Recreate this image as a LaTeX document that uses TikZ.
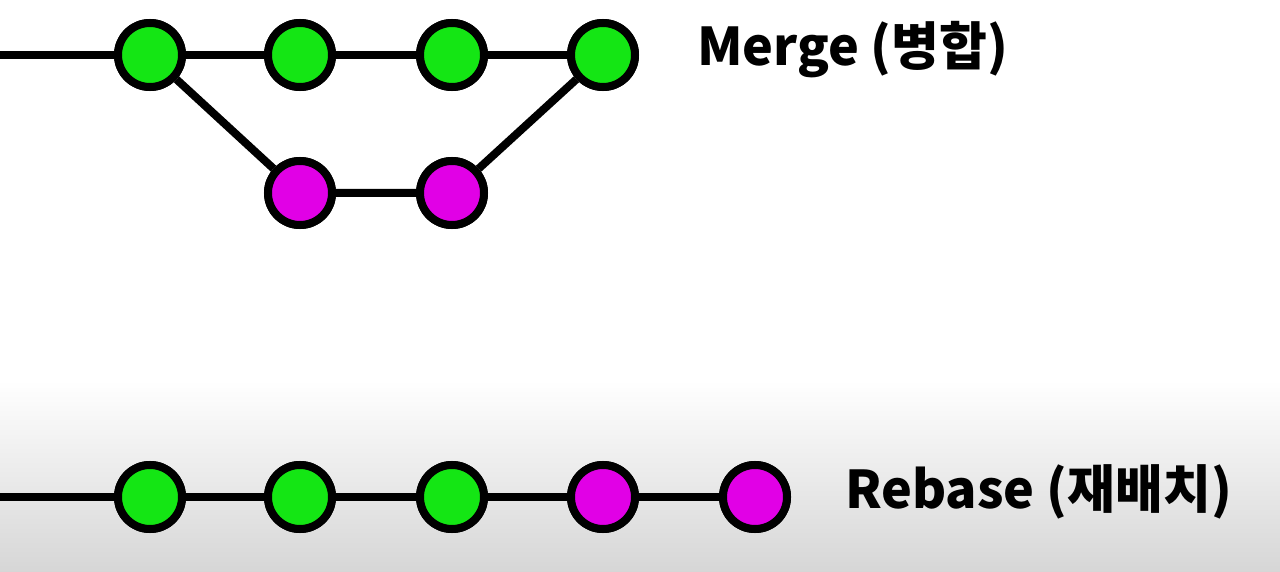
\documentclass[tikz,border=0pt]{standalone}
\usepackage{fontspec}
\newfontfamily\kfont{Noto Sans CJK KR}
\usetikzlibrary{positioning}
\definecolor{cgreen}{RGB}{20,230,20}
\definecolor{cpink}{RGB}{225,0,230}
\tikzset{
  commit/.style={circle, draw=black, line width=4pt, minimum size=32pt, inner sep=0pt},
  main/.style={commit, fill=cgreen},
  side/.style={commit, fill=cpink},
  link/.style={line width=4pt, black},
  title/.style={font=\kfont\bfseries\fontsize{26}{30}\selectfont, anchor=west}
}
\begin{document}
\begin{tikzpicture}[x=0.5pt, y=-0.5pt]
    \useasboundingbox (0,0) rectangle (1280,572);
    \shade[top color=white, bottom color=black!16] (0,380) rectangle (1280,572);

    % merge
    \coordinate (mstart) at (0,55);
    \node[main] (m1) at (150,55) {};
    \node[main] (m2) at (300,55) {};
    \node[main] (m3) at (452,55) {};
    \node[main] (m4) at (603,55) {};
    \node[side] (b1) at (300,193) {};
    \node[side] (b2) at (452,193) {};
    \node[title] (mlabel) at (690,50) {Merge (병합)};

    \begin{scope}[on background layer/.style={}]
    \end{scope}
    \draw[link] (mstart) -- (m1) -- (m2) -- (m3) -- (m4);
    \draw[link] (m1) -- (b1) -- (b2) -- (m4);
    \foreach \n in {m1,m2,m3,m4} \node[main] at (\n) {};
    \foreach \n in {b1,b2} \node[side] at (\n) {};

    % rebase
    \coordinate (rstart) at (0,497);
    \node[main] (r1) at (150,497) {};
    \node[main] (r2) at (300,497) {};
    \node[main] (r3) at (452,497) {};
    \node[side] (r4) at (603,497) {};
    \node[side] (r5) at (755,497) {};
    \node[title] (rlabel) at (838,492) {Rebase (재배치)};

    \draw[link] (rstart) -- (r1) -- (r2) -- (r3) -- (r4) -- (r5);
    \foreach \n in {r1,r2,r3} \node[main] at (\n) {};
    \foreach \n in {r4,r5} \node[side] at (\n) {};
\end{tikzpicture}
\end{document}
